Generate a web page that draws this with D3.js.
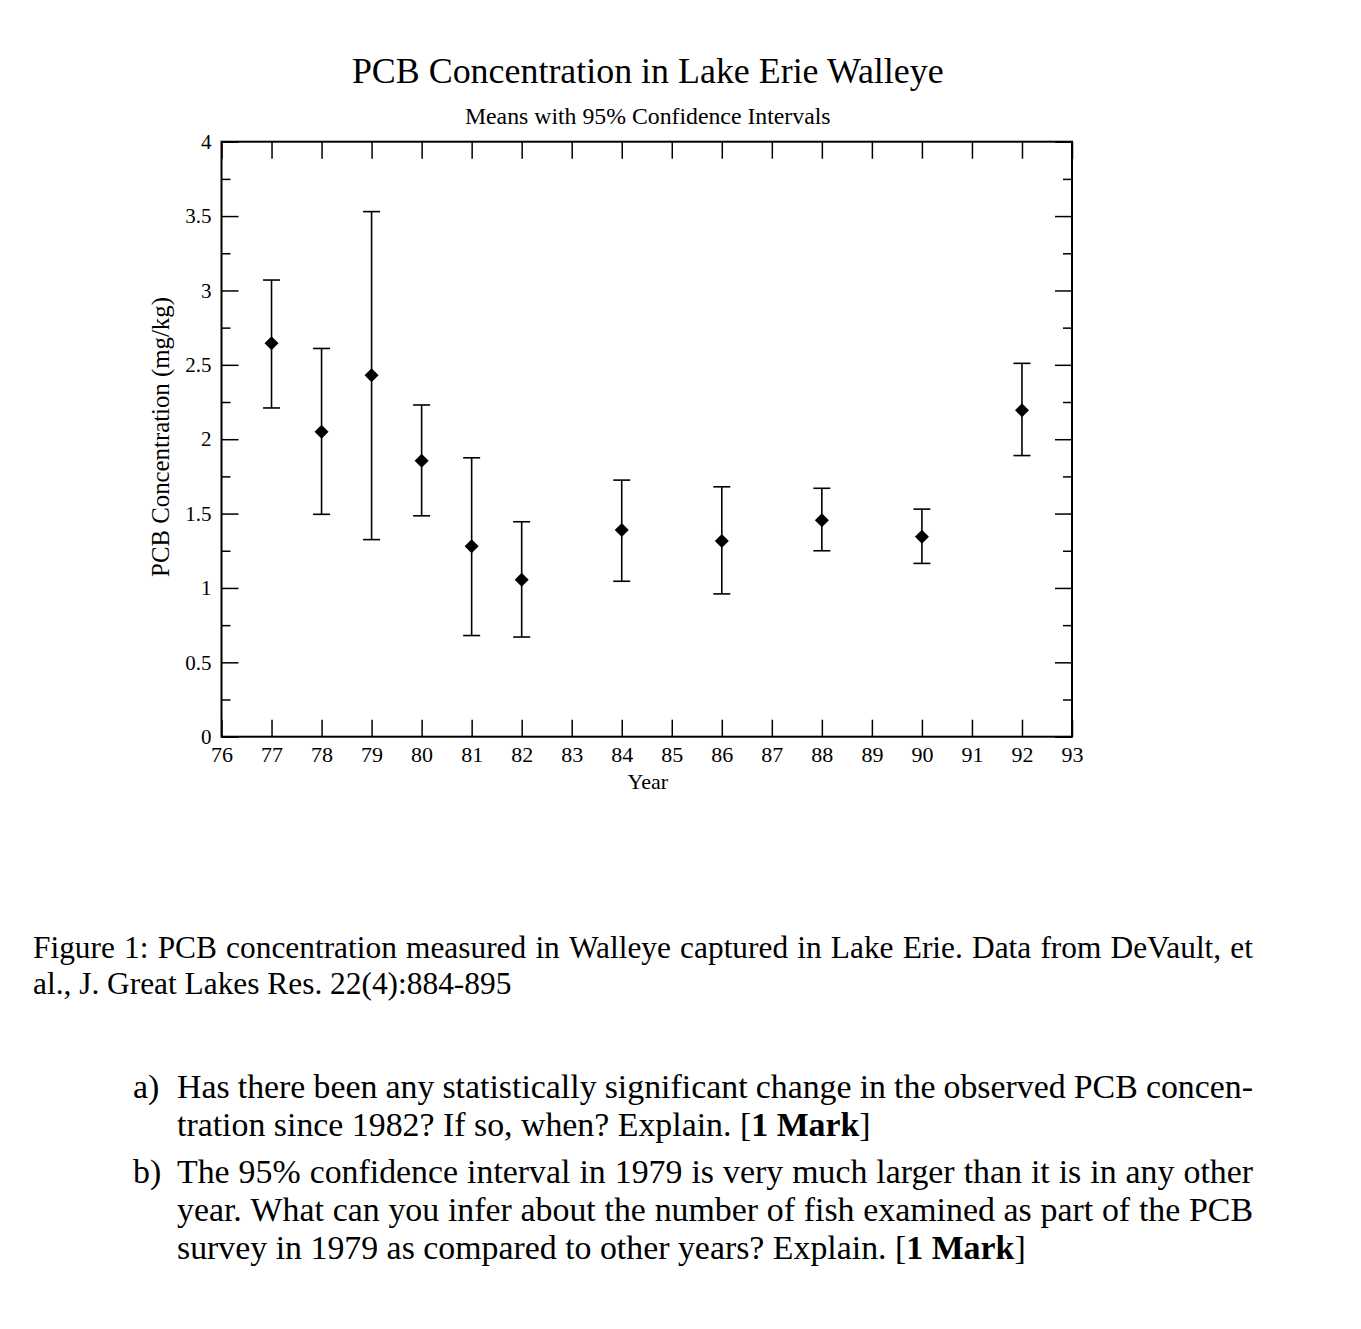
<!DOCTYPE html>
<html>
<head>
<meta charset="utf-8">
<script src="https://cdn.jsdelivr.net/npm/d3@7"></script>
<style>
  html, body { margin: 0; padding: 0; background: #fff; }
  svg { display: block; }
  text { fill: #000; }
</style>
</head>
<body>
<svg id="page" width="1361" height="1329"></svg>
<script>
// data
const years = [77, 78, 79, 80, 81, 82, 84, 86, 88, 90, 92];
const means = [2.645, 2.05, 2.43, 1.855, 1.28, 1.055, 1.39, 1.315, 1.455, 1.345, 2.195];
const upper = [3.07, 2.61, 3.53, 2.23, 1.875, 1.445, 1.725, 1.68, 1.67, 1.53, 2.51];
const lower = [2.21, 1.495, 1.325, 1.485, 0.68, 0.67, 1.045, 0.96, 1.25, 1.165, 1.89];

const xTicks = d3.range(76, 94);
const yMajor = [0, 0.5, 1, 1.5, 2, 2.5, 3, 3.5, 4];
const yMinor = [0.25, 0.75, 1.25, 1.75, 2.25, 2.75, 3.25, 3.75];

const title = "PCB Concentration in Lake Erie Walleye";
const subtitle = "Means with 95% Confidence Intervals";
const xLabel = "Year";
const yLabel = "PCB Concentration (mg/kg)";

const captionLines = [
  "Figure 1: PCB concentration measured in Walleye captured in Lake Erie. Data from DeVault, et",
  "al., J. Great Lakes Res. 22(4):884-895",
];
const questionA = [
  "Has there been any statistically significant change in the observed PCB concen-",
  "tration since 1982? If so, when? Explain. [**1 Mark**]",
];
const questionB = [
  "The 95% confidence interval in 1979 is very much larger than it is in any other",
  "year. What can you infer about the number of fish examined as part of the PCB",
  "survey in 1979 as compared to other years? Explain. [**1 Mark**]",
];

const svg = d3.select("#page");
const serif = "'Liberation Serif', 'Times New Roman', serif";

// plot frame
const plotL = 221.5, plotR = 1072, plotT = 141.7, plotB = 736.7;
const x = d3.scaleLinear().domain([76, 93]).range([plotL, plotR]);
const y = d3.scaleLinear().domain([0, 4]).range([plotB, plotT]);

const g = svg.append("g");

// axes, ticks pointing inward
function styleAxis(sel) {
  sel.select(".domain").remove();
  sel.selectAll(".tick line").attr("stroke", "#000").attr("stroke-width", 1.5);
  sel.selectAll(".tick text")
    .attr("font-family", serif)
    .attr("font-size", 21)
    .attr("fill", "#000");
}

g.append("g")
  .attr("transform", `translate(0,${plotB})`)
  .call(d3.axisBottom(x).tickValues(xTicks).tickFormat(d3.format("d")).tickSize(-17).tickPadding(10))
  .call(styleAxis)
  .call(s => s.selectAll(".tick text").attr("font-size", 22));

g.append("g")
  .attr("transform", `translate(0,${plotT})`)
  .call(d3.axisTop(x).tickValues(xTicks).tickFormat("").tickSize(-17))
  .call(styleAxis);

g.append("g")
  .attr("transform", `translate(${plotL},0)`)
  .call(d3.axisLeft(y).tickValues(yMajor).tickFormat(d3.format("")).tickSize(-17).tickPadding(10))
  .call(styleAxis);

g.append("g")
  .attr("transform", `translate(${plotL},0)`)
  .call(d3.axisLeft(y).tickValues(yMinor).tickFormat("").tickSize(-9))
  .call(styleAxis);

g.append("g")
  .attr("transform", `translate(${plotR},0)`)
  .call(d3.axisRight(y).tickValues(yMajor).tickFormat("").tickSize(-17))
  .call(styleAxis);

g.append("g")
  .attr("transform", `translate(${plotR},0)`)
  .call(d3.axisRight(y).tickValues(yMinor).tickFormat("").tickSize(-9))
  .call(styleAxis);

g.append("rect")
  .attr("x", plotL).attr("y", plotT)
  .attr("width", plotR - plotL).attr("height", plotB - plotT)
  .attr("fill", "none").attr("stroke", "#000").attr("stroke-width", 2);

// error bars
const pts = years.map((yr, i) => ({ yr, m: means[i], hi: upper[i], lo: lower[i] }));
const cap = 8.5;
const bars = g.append("g").attr("stroke", "#000").attr("stroke-width", 1.6);
bars.selectAll(".stem").data(pts).join("line")
  .attr("x1", d => x(d.yr)).attr("x2", d => x(d.yr))
  .attr("y1", d => y(d.hi)).attr("y2", d => y(d.lo));
bars.selectAll(".hi").data(pts).join("line")
  .attr("x1", d => x(d.yr) - cap).attr("x2", d => x(d.yr) + cap)
  .attr("y1", d => y(d.hi)).attr("y2", d => y(d.hi));
bars.selectAll(".lo").data(pts).join("line")
  .attr("x1", d => x(d.yr) - cap).attr("x2", d => x(d.yr) + cap)
  .attr("y1", d => y(d.lo)).attr("y2", d => y(d.lo));

// diamond markers
const diamond = d3.symbol().type(d3.symbolSquare).size(98);
g.append("g").selectAll("path").data(pts).join("path")
  .attr("d", diamond)
  .attr("transform", d => `translate(${x(d.yr)},${y(d.m)}) rotate(45)`)
  .attr("fill", "#000");

// titles and axis labels
const cx = (plotL + plotR) / 2;
function fitText(sel, width) {
  const w = sel.node().getComputedTextLength();
  const fs = +sel.attr("font-size");
  sel.attr("font-size", fs * width / w);
  return sel;
}

svg.append("text").text(title)
  .attr("x", cx + 1).attr("y", 83)
  .attr("text-anchor", "middle").attr("font-family", serif).attr("font-size", 34)
  .call(s => fitText(s, 592));

svg.append("text").text(subtitle)
  .attr("x", cx + 1).attr("y", 124)
  .attr("text-anchor", "middle").attr("font-family", serif).attr("font-size", 22)
  .call(s => fitText(s, 366));

svg.append("text").text(xLabel)
  .attr("x", cx + 1).attr("y", 789)
  .attr("text-anchor", "middle").attr("font-family", serif).attr("font-size", 22);

svg.append("text").text(yLabel)
  .attr("transform", `translate(169,437) rotate(-90)`)
  .attr("text-anchor", "middle").attr("font-family", serif).attr("font-size", 20)
  .call(s => fitText(s, 280));

// caption and questions (justified like the LaTeX page)
const body = "'Liberation Serif', 'Times New Roman', serif";

function addRuns(t, str) {
  str.split("**").forEach((part, i) => {
    if (!part) return;
    t.append("tspan").text(part).attr("font-weight", i % 2 ? "bold" : "normal");
  });
}

function measure(str, size) {
  const t = svg.append("text").attr("font-family", body).attr("font-size", size);
  addRuns(t, str);
  const w = t.node().getComputedTextLength();
  t.remove();
  return w;
}

function drawLine(str, x0, yb, x1, justify, size) {
  const t = svg.append("text")
    .attr("font-family", body).attr("font-size", size)
    .attr("x", x0).attr("y", yb);
  if (!justify) {
    addRuns(t, str);
    return;
  }
  const words = str.split(" ");
  const widths = words.map(w => measure(w, size));
  const gap = (x1 - x0 - d3.sum(widths)) / (words.length - 1);
  let pos = x0;
  words.forEach((w, i) => {
    t.append("tspan").attr("x", pos).text(w);
    pos += widths[i] + gap;
  });
}

const textRight = 1253;

// caption: full line should need only a little extra word space
const capSize = 100 * (textRight - 33) * 0.985 / measure(captionLines[0], 100);
drawLine(captionLines[0], 33, 958, textRight, true, capSize);
drawLine(captionLines[1], 33, 994, textRight, false, capSize);

// questions: size from the ragged last lines
const qSize = 100 * (695 + 848) / (measure(questionA[1], 100) + measure(questionB[2], 100));

svg.append("text").text("a)").attr("x", 133).attr("y", 1098)
  .attr("font-family", body).attr("font-size", qSize);
questionA.forEach((s, i) => drawLine(s, 177, 1098 + i * 38, textRight, i < questionA.length - 1, qSize));

svg.append("text").text("b)").attr("x", 133).attr("y", 1183)
  .attr("font-family", body).attr("font-size", qSize);
questionB.forEach((s, i) => drawLine(s, 177, 1183 + i * 38, textRight, i < questionB.length - 1, qSize));
</script>
</body>
</html>
